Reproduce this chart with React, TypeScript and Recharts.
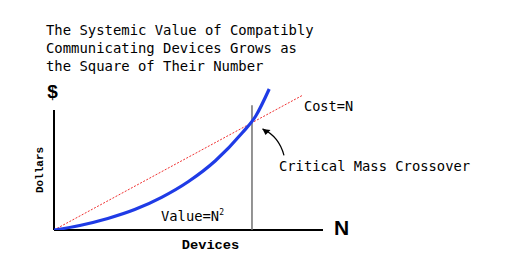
import { LineChart, Line, XAxis, YAxis, ReferenceLine, ReferenceDot } from "recharts";

// value curve (N^2)
const devices = [0, 10, 20, 30, 40, 50, 60, 70, 75, 80];
const value = [0, 4, 9.6, 17, 27.2, 40.4, 57.7, 81, 95, 117.5];

// cost line (linear in N)
const costDevices = [0, 92.6];
const cost = [0, 112.5];

const crossover = { n: 73.6, y: 90.5 };
const titleLines = [
  "The Systemic Value of Compatibly",
  "Communicating Devices Grows as",
  "the Square of Their Number",
];

const valueData = devices.map((n, i) => ({ n, v: value[i] }));
const costData = costDevices.map((n, i) => ({ n, c: cost[i] }));

const mono = "'DejaVu Sans Mono', monospace";
const monoBold = "'Liberation Mono', monospace";

function CrossArrow(props: any) {
  const { cx, cy } = props;
  if (cx == null || cy == null) return null;
  const tx = cx + 10.5;
  const ty = cy + 7.5;
  return (
    <g>
      <path
        d={`M${cx + 32},${cy + 34} Q${cx + 27},${cy + 15} ${tx},${ty}`}
        fill="none"
        stroke="#000"
        strokeWidth={1.2}
      />
      <path
        d={`M${tx},${ty} L${tx + 8},${ty + 1} L${tx + 3},${ty + 6} Z`}
        fill="#000"
      />
    </g>
  );
}

export default function App() {
  return (
    <div style={{ position: "absolute", left: 0, top: 0, width: 506, height: 280, background: "#fff" }}>
      <LineChart width={506} height={280} margin={{ top: 86, right: 183, left: 54, bottom: 50 }}>
        <XAxis type="number" dataKey="n" domain={[0, 100]} hide allowDataOverflow />
        <YAxis type="number" domain={[0, 120]} hide allowDataOverflow />
        <ReferenceLine segment={[{ x: 0, y: 0 }, { x: 100, y: 0 }]} stroke="#000" strokeWidth={2} />
        <ReferenceLine segment={[{ x: 0, y: 0 }, { x: 0, y: 100 }]} stroke="#000" strokeWidth={2} />
        <ReferenceLine
          segment={[{ x: crossover.n, y: 0 }, { x: crossover.n, y: 104 }]}
          stroke="#707070"
          strokeWidth={1.5}
        />
        <Line
          data={costData}
          dataKey="c"
          type="linear"
          stroke="#f03030"
          strokeWidth={1}
          strokeDasharray="2 1.5"
          dot={false}
          isAnimationActive={false}
        />
        <Line
          data={valueData}
          dataKey="v"
          type="monotone"
          stroke="#1f3be6"
          strokeWidth={3.2}
          dot={false}
          isAnimationActive={false}
        />
        <ReferenceDot x={crossover.n} y={crossover.y} shape={CrossArrow} />
      </LineChart>
      <svg
        width={506}
        height={280}
        style={{ position: "absolute", left: 0, top: 0, pointerEvents: "none" }}
      >
        {titleLines.map((t, i) => (
          <text key={t} x={46} y={34.5 + i * 18} fontFamily={mono} fontSize={13.9} fill="#000">
            {t}
          </text>
        ))}
        <text x={304} y={110.5} fontFamily={mono} fontSize={13.6} fill="#000">Cost=N</text>
        <text x={279} y={170.5} fontFamily={mono} fontSize={13.8} fill="#000">Critical Mass Crossover</text>
        <text x={161} y={221} fontFamily={mono} fontSize={13.8} fill="#000">
          Value=N<tspan fontSize={8} dy={-6}>2</tspan>
        </text>
        <text x={210.5} y={248.5} textAnchor="middle" fontFamily={monoBold} fontWeight="bold" fontSize={13.7} fill="#000">
          Devices
        </text>
        <text
          x={42.5}
          y={170}
          textAnchor="middle"
          transform="rotate(-90 42.5 170)"
          fontFamily={monoBold}
          fontWeight="bold"
          fontSize={11}
          fill="#000"
        >
          Dollars
        </text>
        <text x={52.5} y={97.5} textAnchor="middle" fontFamily="'Liberation Sans', Arial, sans-serif" fontWeight="bold" fontSize={19} fill="#000">$</text>
        <text x={334} y={235} fontFamily="'Liberation Sans', Arial, sans-serif" fontWeight="bold" fontSize={21} fill="#000">N</text>
      </svg>
    </div>
  );
}
